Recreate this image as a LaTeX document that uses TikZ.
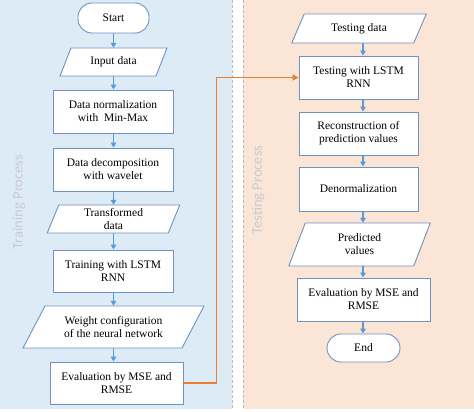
\documentclass[tikz,border=0pt]{standalone}
\usepackage{fontspec}
\setmainfont{Liberation Serif}
\newfontfamily\labfont{Carlito}
\usetikzlibrary{arrows.meta}
\definecolor{bgblue}{RGB}{221,235,247}
\definecolor{bgpeach}{RGB}{251,229,214}
\definecolor{edgeblue}{RGB}{112,146,190}
\definecolor{arrblue}{RGB}{91,155,213}
\definecolor{arrorange}{RGB}{237,125,49}
\definecolor{labgray}{RGB}{200,204,210}
\definecolor{sepgray}{RGB}{185,185,185}
\tikzset{
  x=1pt, y=-1pt,
  txt/.style={font=\fontsize{11.5}{13}\selectfont, align=center, text=black, inner sep=0pt},
  procbox/.style={txt, draw=edgeblue, fill=white, line width=0.9pt},
  termbox/.style={procbox, rounded corners=14pt},
  iooutline/.style={draw=edgeblue, fill=white, line width=0.9pt},
  iotext/.style={txt},
  flow/.style={draw=arrblue, line width=1.2pt, -{Triangle[length=5pt,width=5.5pt]}},
  loopback/.style={draw=arrorange, line width=1.3pt, -{Triangle[length=6pt,width=6pt]}},
  sepline/.style={draw=sepgray, line width=0.8pt, dash pattern=on 3pt off 2pt},
  proclabel/.style={font=\labfont\fontsize{14.5}{16}\selectfont, text=labgray, rotate=90, inner sep=0pt}
}
% #1 name, #2 cx, #3 cy, #4 base width, #5 height, #6 slant, #7 text
\newcommand\iobox[7]{%
  \draw[iooutline] (#2-#4/2-#6/2, #3+#5/2) -- (#2-#4/2+#6/2, #3-#5/2)
     -- (#2+#4/2+#6/2, #3-#5/2) -- (#2+#4/2-#6/2, #3+#5/2) -- cycle;
  \node[iotext, minimum width=#4, minimum height=#5] (#1) at (#2,#3) {#7};}
\begin{document}
\begin{tikzpicture}
\useasboundingbox (0,0) rectangle (474,412);
% panels
\fill[bgblue] (0,0) rectangle (232,409);
\fill[bgpeach] (243,0) rectangle (474,409);
\draw[sepline] (232,0) -- (232,409);
\draw[sepline] (243,0) -- (243,409);
\node[proclabel] (trainlab) at (19,202) {Training Process};
\node[proclabel] (testlab) at (258,190) {Testing Process};
% axes for arrows
\coordinate (axL) at (113.5,0);
\coordinate (axR) at (363,0);
% left column
\node[termbox, minimum width=71, minimum height=30] (start) at (113.5,18) {Start};
\iobox{input}{113.5}{62}{96}{28}{11}{Input data}
\node[procbox, minimum width=120, minimum height=43] (norm) at (113,111.5) {Data normalization\\with\ \ Min-Max};
\node[procbox, minimum width=120, minimum height=43] (decomp) at (113,169.5) {Data decomposition\\with wavelet};
\iobox{trans}{113.5}{219}{121}{28}{11.5}{Transformed\\data}
\node[procbox, minimum width=120, minimum height=42] (train) at (113,271) {Training with LSTM\\RNN};
\iobox{weight}{113.5}{327}{159}{42}{22}{Weight configuration\\of the neural network}
\node[procbox, minimum width=133, minimum height=42] (eval) at (116.5,383) {Evaluation by MSE and\\RMSE};
% right column
\iobox{tdata}{359}{28.5}{122}{29}{12.5}{Testing data}
\node[procbox, minimum width=119, minimum height=43] (ttest) at (358.5,77.5) {Testing with LSTM\\RNN};
\node[procbox, minimum width=119, minimum height=43] (recon) at (358.5,133.5) {Reconstruction of\\prediction values};
\node[procbox, minimum width=119, minimum height=44] (denorm) at (358.5,189) {Denormalization};
\iobox{pred}{359.5}{244.5}{125}{43}{16.5}{Predicted\\values}
\node[procbox, minimum width=133, minimum height=43] (reval) at (363.5,299.5) {Evaluation by MSE and\\RMSE};
\node[termbox, minimum width=73, minimum height=28] (end) at (363.5,348) {End};
% left arrows
\draw[flow] (start.south -| axL) -- (input.north -| axL);
\draw[flow] (input.south -| axL) -- (norm.north -| axL);
\draw[flow] (norm.south -| axL) -- (decomp.north -| axL);
\draw[flow] (decomp.south -| axL) -- (trans.north -| axL);
\draw[flow] (trans.south -| axL) -- (train.north -| axL);
\draw[flow] (train.south -| axL) -- (weight.north -| axL);
\draw[flow] (weight.south -| axL) -- (eval.north -| axL);
% right arrows
\draw[flow] (tdata.south -| axR) -- (ttest.north -| axR);
\draw[flow] (ttest.south -| axR) -- (recon.north -| axR);
\draw[flow] (recon.south -| axR) -- (denorm.north -| axR);
\draw[flow] (denorm.south -| axR) -- (pred.north -| axR);
\draw[flow] (pred.south -| axR) -- (reval.north -| axR);
\draw[flow] (reval.south -| axR) -- (end.north -| axR);
% loop-back connector
\draw[loopback] (eval.east) -- ++(33,0) |- (ttest.west);
\end{tikzpicture}
\end{document}
